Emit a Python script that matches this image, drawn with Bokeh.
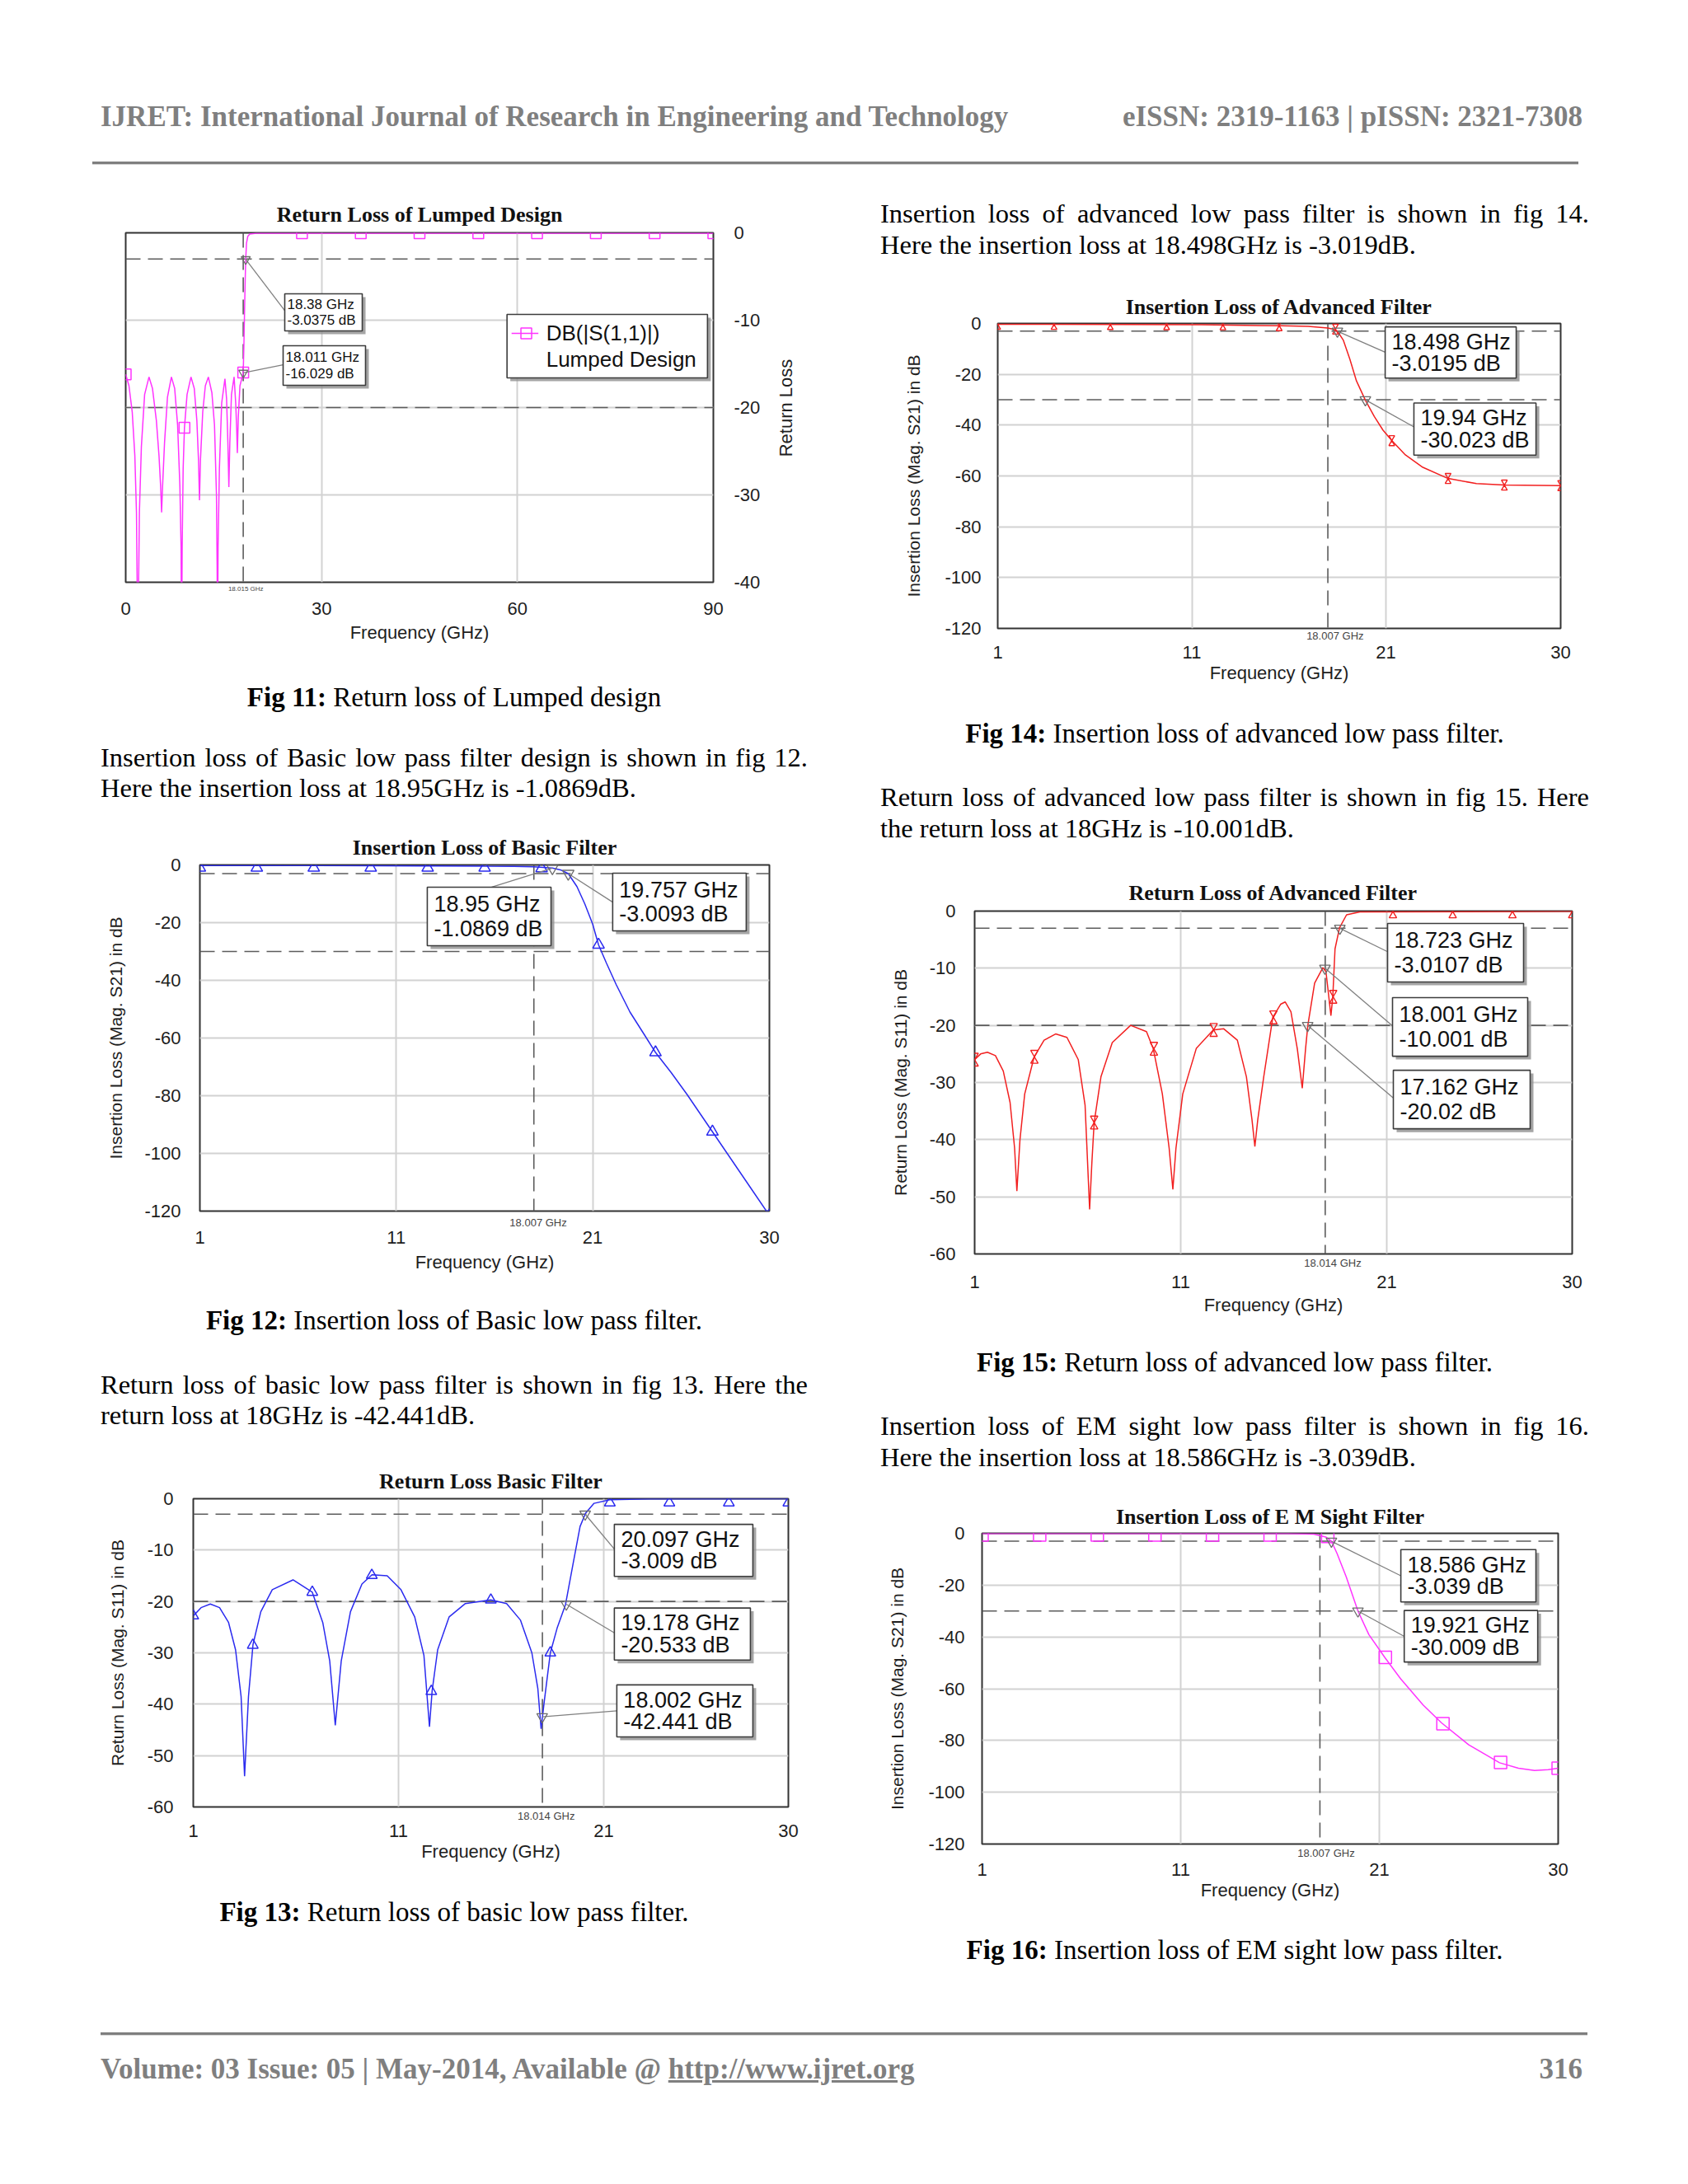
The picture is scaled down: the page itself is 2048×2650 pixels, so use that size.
import math
from bokeh.plotting import figure
from bokeh.models import Range1d, FixedTicker, Span, Div, Spacer, ColumnDataSource, LinearAxis
from bokeh.layouts import column, row
from bokeh.core.properties import value
from bokeh.transform import dodge
from bokeh.embed import file_html
from bokeh.resources import INLINE

# ======================= DATA =======================
# Fig 11 : Return loss of lumped design (0-90 GHz)
lumped_f = [0.0, 0.5, 1.0, 1.4, 1.65, 1.86, 2.1, 2.4, 2.9, 3.57,
            4.1, 4.7, 5.1, 5.35, 5.5, 5.65, 5.95, 6.4, 7.0,
            7.5, 7.95, 8.3, 8.48, 8.56, 8.65, 8.8, 9.0, 9.4, 10.0,
            10.5, 10.9, 11.15, 11.3, 11.45, 11.8, 12.2, 12.66,
            13.2, 13.6, 13.9, 14.0, 14.07, 14.15, 14.35, 14.7, 15.2,
            15.45, 15.65, 15.8, 15.95, 16.2, 16.6,
            16.85, 17.0, 17.1, 17.25, 17.5, 17.8, 18.0,
            18.1, 18.2, 18.3, 18.38, 18.5, 18.7, 19.0, 20.0, 90.0]
lumped_db = [-16.2, -17.5, -20.5, -25.5, -32.0, -48.0, -32.0, -24.5, -18.5, -16.5,
             -17.8, -21.5, -25.5, -29.0, -32.0, -29.0, -24.0, -18.8, -16.5,
             -17.8, -22.0, -29.0, -36.0, -48.0, -36.0, -27.0, -22.3, -18.5, -16.5,
             -17.8, -21.5, -26.0, -30.6, -26.0, -20.5, -17.5, -16.5,
             -18.3, -22.0, -30.0, -38.0, -48.0, -36.0, -27.0, -19.5, -16.7,
             -19.0, -24.0, -29.1, -24.0, -18.5, -16.5,
             -19.5, -22.5, -25.2, -21.0, -17.5, -16.6, -16.0,
             -13.0, -9.0, -5.5, -3.04, -1.2, -0.4, -0.15, -0.05, -0.05]
lumped_mk_f = [0, 9, 18, 27, 36, 45, 54, 63, 72, 81, 90]
lumped_mk_db = [-16.2, -22.3, -16.0, -0.05, -0.05, -0.05, -0.05, -0.05, -0.05, -0.05, -0.05]
lumped_mark_f = [18.38, 18.011]
lumped_mark_db = [-3.0375, -16.029]
lumped_mark_txt = [["18.38 GHz", "-3.0375 dB"], ["18.011 GHz", "-16.029 dB"]]
lumped_legend = ["DB(|S(1,1)|)", "Lumped Design"]
lumped_xticks = [0, 30, 60, 90]
lumped_xlabels = ["0", "30", "60", "90"]
lumped_yticks = [0, -10, -20, -30, -40]
lumped_ylabels = ["0", "-10", "-20", "-30", "-40"]
lumped_hlines = [-3, -20]
lumped_vline = 18.0
lumped_vtext = "18.015 GHz"

# common axes of figs 12-16
freq_ticks = [1, 11, 21, 30]
freq_labels = ["1", "11", "21", "30"]
il_ticks = [0, -20, -40, -60, -80, -100, -120]
il_labels = ["0", "-20", "-40", "-60", "-80", "-100", "-120"]
rl_ticks = [0, -10, -20, -30, -40, -50, -60]
rl_labels = ["0", "-10", "-20", "-30", "-40", "-50", "-60"]
mk_f = [1, 3.9, 6.8, 9.7, 12.6, 15.5, 18.4, 21.3, 24.2, 27.1, 30]

# Fig 12 : insertion loss of basic filter
basic_il_f = [1, 4, 7, 10, 13, 15.5, 17, 18, 18.95, 19.4, 19.757, 20.2, 20.6, 21.0,
              21.3, 21.7, 22.2, 22.9, 23.6, 24.2, 25.0, 25.8, 26.5, 27.1, 27.8, 28.5, 29.2, 30]
basic_il_db = [-0.2, -0.2, -0.25, -0.3, -0.35, -0.45, -0.5, -0.65, -1.09, -1.8, -3.01, -7.5, -13.5, -20.5,
               -27.7, -34.0, -41.5, -51.0, -58.5, -65.0, -72.0, -79.5, -86.5, -92.5, -99.5, -106.5, -113.5, -121.5]
basic_il_mk_db = [-1.0, -1.0, -1.0, -1.0, -1.0, -1.0, -1.2, -27.7, -65.0, -92.5, -121.5]
basic_il_mark_f = [18.95, 19.757]
basic_il_mark_db = [-1.0869, -3.0093]
basic_il_mark_txt = [["18.95 GHz", "-1.0869 dB"], ["19.757 GHz", "-3.0093 dB"]]
basic_il_hlines = [-3, -30]
basic_il_vline = 18.007

# Fig 13 : return loss of basic filter
basic_rl_f = [1.0, 1.38, 1.83, 2.28, 2.72, 3.06, 3.33, 3.5, 3.69, 3.91,
              4.29, 4.85, 5.86, 6.8, 7.31, 7.65, 7.92, 8.21, 8.66, 9.22,
              9.71, 10.45, 11.12, 11.79, 12.24, 12.51, 12.64, 12.91, 13.47, 14.26,
              15.49, 16.27, 16.94, 17.5, 17.79, 17.95, 18.1, 18.4, 18.73, 19.14,
              19.52, 19.85, 20.12, 20.53, 21.3, 23.2, 30.0]
basic_rl_db = [-22.8, -21.2, -20.5, -21.2, -24.1, -29.4, -38.5, -54.0, -38.5, -28.4,
               -22.0, -17.7, -15.8, -18.2, -24.1, -31.6, -44.1, -31.6, -22.0, -16.6,
               -14.8, -15.0, -17.7, -23.0, -30.5, -44.4, -37.4, -29.4, -23.0, -20.4,
               -19.7, -20.4, -23.6, -30.0, -36.9, -44.8, -39.6, -30.0, -25.2, -20.6,
               -12.4, -5.4, -2.8, -0.9, -0.2, -0.05, 0.0]
basic_rl_mk_db = [-22.8, -28.5, -18.2, -14.9, -37.5, -19.7, -30.0, -0.8, -0.8, -0.8, -0.8]
basic_rl_mark_f = [20.097, 19.178, 18.002]
basic_rl_mark_db = [-3.009, -20.533, -42.441]
basic_rl_mark_txt = [["20.097 GHz", "-3.009 dB"], ["19.178 GHz", "-20.533 dB"], ["18.002 GHz", "-42.441 dB"]]
basic_rl_hlines = [-3, -20]
basic_rl_vline = 18.014

# Fig 14 : insertion loss of advanced filter
adv_il_f = [1, 11.5, 15.6, 17.0, 18.0, 18.3, 18.5, 18.8, 19.14, 19.48,
            19.94, 20.4, 20.85, 21.31, 22.0, 22.9, 24.2, 25.66, 27.1, 30]
adv_il_db = [-0.3, -0.5, -0.9, -1.1, -1.8, -2.3, -3.0, -6.5, -14.0, -22.6,
             -30.2, -36.6, -42.0, -46.1, -51.7, -56.6, -61.0, -63.0, -63.6, -63.8]
adv_il_mk_db = [-0.3, -0.35, -0.4, -0.45, -0.5, -0.85, -2.2, -46.1, -61.0, -63.6, -63.8]
adv_il_mark_f = [18.498, 19.94]
adv_il_mark_db = [-3.0195, -30.023]
adv_il_mark_txt = [["18.498 GHz", "-3.0195 dB"], ["19.94 GHz", "-30.023 dB"]]
adv_il_hlines = [-3, -30]
adv_il_vline = 18.007

# Fig 15 : return loss of advanced filter
adv_rl_f = [1.0, 1.29, 1.62, 2.01, 2.39, 2.72, 2.94, 3.05, 3.2, 3.43,
            3.89, 4.37, 4.93, 5.48, 6.03, 6.36, 6.58, 6.69, 6.8, 7.13,
            7.68, 8.57, 9.34, 9.67, 10.11, 10.44, 10.62, 10.77, 11.1, 11.76,
            12.58, 13.09, 13.75, 14.19, 14.46, 14.6, 14.74, 15.03, 15.47, 15.85,
            16.07, 16.35, 16.66, 16.9, 17.06, 17.17, 17.5, 17.9, 18.05, 18.16,
            18.29, 18.38, 18.49, 18.71, 19.05, 19.7, 30.0]
adv_rl_db = [-26.0, -25.0, -24.7, -25.3, -28.0, -33.5, -41.5, -49.0, -40.0, -32.0,
             -25.5, -22.6, -21.5, -22.1, -26.0, -34.0, -52.2, -44.0, -37.0, -29.0,
             -23.0, -20.0, -21.1, -24.1, -32.0, -41.5, -48.7, -41.5, -32.0, -24.0,
             -20.8, -20.6, -22.6, -29.0, -36.5, -41.2, -36.5, -29.0, -18.6, -16.3,
             -15.9, -17.6, -24.1, -31.0, -24.1, -20.0, -12.6, -9.9, -10.6, -14.1,
             -18.3, -15.1, -6.6, -2.9, -0.65, -0.15, -0.05]
adv_rl_mk_db = [-26.0, -25.5, -37.0, -24.1, -20.8, -18.6, -15.0, -0.05, -0.05, -0.05, -0.05]
adv_rl_mark_f = [18.723, 18.001, 17.162]
adv_rl_mark_db = [-3.0107, -10.001, -20.02]
adv_rl_mark_txt = [["18.723 GHz", "-3.0107 dB"], ["18.001 GHz", "-10.001 dB"], ["17.162 GHz", "-20.02 dB"]]
adv_rl_hlines = [-3, -20]
adv_rl_vline = 18.014

# Fig 16 : insertion loss of EM sight filter
em_il_f = [1, 16.4, 17.7, 18.3, 18.586, 18.87, 19.33, 19.921, 20.47, 21.27,
           22.07, 23.2, 24.13, 25.5, 27.05, 28.0, 28.81, 29.5, 30]
em_il_db = [-0.1, -0.1, -0.3, -1.4, -3.04, -7.8, -16.8, -30.0, -39.1, -47.9,
            -56.2, -66.3, -73.2, -81.7, -88.6, -90.7, -91.6, -91.3, -90.7]
em_il_mk_db = [-0.6, -0.6, -0.6, -0.6, -0.6, -0.6, -1.2, -47.9, -73.5, -88.5, -90.7]
em_il_mark_f = [18.586, 19.921]
em_il_mark_db = [-3.039, -30.009]
em_il_mark_txt = [["18.586 GHz", "-3.039 dB"], ["19.921 GHz", "-30.009 dB"]]
em_il_hlines = [-3, -30]
em_il_vline = 18.007

# ======================= LAYOUT / STYLE =======================
SANS = "Liberation Sans"
SERIF = "Liberation Serif"
MAGENTA = "#ff33ff"
BLUE = "#2b2bef"
RED = "#f22020"

def geom(w, h, l, r, t, b, x0, x1, y0, y1):
    return dict(w=w, h=h, l=l, r=r, t=t, b=b, x0=x0, x1=x1, y0=y0, y1=y1,
                fw=w - l - r, fh=h - t - b)

G11 = geom(840, 585, 52, 75, 67, 94, 0, 90, -40, 0)
G12 = geom(900, 555, 142, 67, 49, 86, 1, 30, -120, 0)
G13 = geom(900, 505, 134, 44, 58, 73, 1, 30, -60, 0)
G14 = geom(908, 495, 170, 55, 47, 78, 1, 30, -120, 0)
G15 = geom(908, 565, 142, 41, 55, 94, 1, 30, -60, 0)
G16 = geom(908, 500, 151, 58, 45, 78, 1, 30, -120, 0)

# annotation boxes (left, right, top, bottom, leader_x, leader_y) in data units
BOX11 = [(24.36, 36.23, -6.98, -11.23, 24.36, -8.9), (24.11, 36.73, -12.92, -17.45, 24.11, -15.1)]
BOX12 = [(12.58, 18.88, -7.7, -28.0, 15.86, -7.7), (22.02, 28.82, -2.86, -22.86, 22.02, -12.9)]
BOX13 = [(21.52, 28.27, -4.99, -15.12, 21.52, -9.8), (21.52, 28.15, -21.27, -31.41, 21.52, -26.1),
         (21.64, 28.27, -36.23, -46.37, 21.64, -41.3)]
BOX14 = [(20.96, 27.71, -1.34, -21.5, 20.96, -11.3), (22.44, 28.73, -31.3, -51.8, 22.44, -40.7)]
BOX15 = [(21.04, 27.64, -2.16, -12.41, 21.04, -7.1), (21.28, 27.84, -15.15, -25.4, 21.28, -20.1),
         (21.32, 27.96, -27.85, -38.1, 21.32, -32.7)]
BOX16 = [(22.08, 28.88, -6.3, -26.5, 22.08, -16.4), (22.25, 28.97, -29.8, -49.7, 22.25, -39.8)]


def scale(g):
    return (g["x1"] - g["x0"]) / g["fw"], (g["y1"] - g["y0"]) / g["fh"]


def make_fig(g, title, tstand, xt, xl, yt, yl, ylabel, yloc, xstand, xlabstand, ystand, ylabstand):
    p = figure(width=g["w"], height=g["h"],
               x_range=Range1d(g["x0"], g["x1"]), y_range=Range1d(g["y0"], g["y1"]),
               output_backend="svg", toolbar_location=None, y_axis_location=yloc,
               min_border_left=g["l"], min_border_right=g["r"],
               min_border_top=g["t"], min_border_bottom=g["b"],
               background_fill_color="white", border_fill_color="white")
    p.margin = 0
    if "frame_align" in p.properties():
        p.frame_align = False
    p.title.text = title
    p.title.text_font = SERIF
    p.title.text_font_style = "bold"
    p.title.text_font_size = "26px"
    p.title.text_color = "#111111"
    p.title.align = "center"
    p.title.standoff = tstand
    p.outline_line_color = "#333333"
    p.outline_line_width = 2
    for ax in p.axis:
        ax.axis_line_color = None
        ax.major_tick_in = 0
        ax.major_tick_out = 0
        ax.minor_tick_in = 0
        ax.minor_tick_out = 0
        ax.major_tick_line_color = None
        ax.minor_tick_line_color = None
        ax.major_label_text_font = SANS
        ax.major_label_text_font_size = "22px"
        ax.major_label_text_color = "#1e1e1e"
        ax.axis_label_text_font = SANS
        ax.axis_label_text_font_style = "normal"
        ax.axis_label_text_color = "#1e1e1e"
    xa = p.xaxis[0]
    ya = p.yaxis[0]
    xa.ticker = FixedTicker(ticks=xt)
    xa.major_label_overrides = {t: s for t, s in zip(xt, xl)}
    xa.axis_label = "Frequency (GHz)"
    xa.axis_label_text_font_size = "22px"
    xa.major_label_standoff = xstand
    xa.axis_label_standoff = xlabstand
    ya.ticker = FixedTicker(ticks=yt)
    ya.major_label_overrides = {t: s for t, s in zip(yt, yl)}
    ya.major_label_standoff = ystand
    if ylabel:
        ya.axis_label = ylabel
        ya.axis_label_text_font_size = "21px"
        ya.axis_label_standoff = ylabstand
    p.xgrid.grid_line_color = "#d2d2d2"
    p.ygrid.grid_line_color = "#d2d2d2"
    p.xgrid.grid_line_width = 2
    p.ygrid.grid_line_width = 2
    return p


def guides(p, hlines, vline, vtext, vtext_x, vtext_stand, vtext_size):
    for y in hlines:
        p.add_layout(Span(location=y, dimension="width", line_color="#5c5c5c",
                          line_dash="18 9", line_width=1.6, level="underlay"))
    p.add_layout(Span(location=vline, dimension="height", line_color="#5c5c5c",
                      line_dash="18 9", line_width=1.6, level="underlay"))
    # small frequency readout just under the frame: an extra axis closest to the frame
    ax = LinearAxis(ticker=FixedTicker(ticks=[vtext_x]), major_label_overrides={vtext_x: vtext},
                    axis_line_color=None, major_tick_line_color=None, minor_tick_line_color=None,
                    major_tick_in=0, major_tick_out=0, minor_tick_in=0, minor_tick_out=0,
                    major_label_standoff=vtext_stand, major_label_text_font=SANS,
                    major_label_text_font_size=f"{vtext_size}px", major_label_text_color="#444444")
    p.below = [ax] + list(p.below)


def markers(p, g, xs, ys, kind, size, color):
    if kind == "hourglass":
        dxpp, dypp = scale(g)
        off = (2.0 * 0.866 * size / 3.0) * dypp
        src = ColumnDataSource(dict(x=xs, y=ys))
        p.scatter("x", dodge("y", -off), source=src, marker="triangle", size=size,
                  line_color=color, fill_alpha=0, line_width=1.4)
        p.scatter("x", dodge("y", off), source=src, marker="inverted_triangle", size=size,
                  line_color=color, fill_alpha=0, line_width=1.4)
    else:
        p.scatter(xs, ys, marker=kind, size=size, line_color=color, fill_alpha=0, line_width=1.5)


def notes(p, g, mf, mdb, mtxt, boxes, fsize, pad, tri):
    dxpp, dypp = scale(g)
    p.segment(x0=mf, y0=mdb, x1=[b[4] for b in boxes], y1=[b[5] for b in boxes],
              line_color="#808080", line_width=1.3)
    p.scatter(mf, mdb, marker="inverted_triangle", size=tri, line_color="#6c6c6c",
              fill_alpha=0, line_width=1.3)
    sh = 4
    for b, t in zip(boxes, mtxt):
        left, right, top, bottom = b[:4]
        p.quad(left=[left + sh * dxpp], right=[right + sh * dxpp],
               top=[top - sh * dypp], bottom=[bottom - sh * dypp],
               fill_color="#8e8e8e", fill_alpha=0.8, line_color=None)
        p.quad(left=[left], right=[right], top=[top], bottom=[bottom],
               fill_color="white", line_color="#3c3c3c", line_width=1.6)
        hgt = top - bottom
        p.text(x=[left + pad * dxpp] * 2, y=[top - 0.29 * hgt, top - 0.71 * hgt], text=t,
               text_font=value(SANS), text_font_size=f"{fsize}px", text_baseline="middle",
               text_align="left", text_color="#111111")


# ---------- Fig 11 ----------
f11 = make_fig(G11, "Return Loss of Lumped Design", 16, lumped_xticks, lumped_xlabels,
               lumped_yticks, lumped_ylabels, None, "right", 9, 6, 25, 0)
guides(f11, lumped_hlines, lumped_vline, lumped_vtext, 18.4, 3, 8)
f11.line(lumped_f, lumped_db, line_color=MAGENTA, line_width=1.5)
markers(f11, G11, lumped_mk_f, lumped_mk_db, "square", 13, MAGENTA)
notes(f11, G11, lumped_mark_f, lumped_mark_db, lumped_mark_txt, BOX11, 17, 3, 11)
dx11, dy11 = scale(G11)
f11.quad(left=[58.4 + 4 * dx11], right=[89.1 + 4 * dx11], top=[-9.34 - 4 * dy11], bottom=[-16.6 - 4 * dy11],
         fill_color="#8e8e8e", fill_alpha=0.8, line_color=None)
f11.quad(left=[58.4], right=[89.1], top=[-9.34], bottom=[-16.6], fill_color="white",
         line_color="#3c3c3c", line_width=1.6)
f11.line([59.1, 63.2], [-11.5, -11.5], line_color=MAGENTA, line_width=1.5)
f11.scatter([61.35], [-11.5], marker="square", size=13, line_color=MAGENTA, fill_alpha=0, line_width=1.5)
f11.text(x=[64.4, 64.4], y=[-11.5, -14.5], text=lumped_legend, text_font=value(SANS),
         text_font_size="26px", text_baseline="middle", text_align="left", text_color="#111111")

# ---------- Fig 12 ----------
f12 = make_fig(G12, "Insertion Loss of Basic Filter", 14, freq_ticks, freq_labels, il_ticks, il_labels,
               "Insertion Loss (Mag. S21) in dB", "left", 0, 7, 23, 20)
guides(f12, basic_il_hlines, basic_il_vline, "18.007 GHz", 18.23, 6, 13)
f12.line(basic_il_f, basic_il_db, line_color=BLUE, line_width=1.5)
markers(f12, G12, mk_f, basic_il_mk_db, "triangle", 14, BLUE)
notes(f12, G12, basic_il_mark_f, basic_il_mark_db, basic_il_mark_txt, BOX12, 27, 8, 14)

# ---------- Fig 13 ----------
f13 = make_fig(G13, "Return Loss Basic Filter", 14, freq_ticks, freq_labels, rl_ticks, rl_labels,
               "Return Loss (Mag. S11) in dB", "left", 0, 2, 24, 22)
guides(f13, basic_rl_hlines, basic_rl_vline, "18.014 GHz", 18.2, 3, 13)
f13.line(basic_rl_f, basic_rl_db, line_color=BLUE, line_width=1.5)
markers(f13, G13, mk_f, basic_rl_mk_db, "triangle", 13, BLUE)
notes(f13, G13, basic_rl_mark_f, basic_rl_mark_db, basic_rl_mark_txt, BOX13, 27, 8, 13)

# ---------- Fig 14 ----------
f14 = make_fig(G14, "Insertion Loss of Advanced Filter", 12, freq_ticks, freq_labels, il_ticks, il_labels,
               "Insertion Loss (Mag. S21) in dB", "left", 2, 2, 20, 23)
guides(f14, adv_il_hlines, adv_il_vline, "18.007 GHz", 18.38, 1, 13)
f14.line(adv_il_f, adv_il_db, line_color=RED, line_width=1.5)
markers(f14, G14, mk_f, adv_il_mk_db, "hourglass", 7, RED)
notes(f14, G14, adv_il_mark_f, adv_il_mark_db, adv_il_mark_txt, BOX14, 27, 8, 13)

# ---------- Fig 15 ----------
f15 = make_fig(G15, "Return Loss of Advanced Filter", 16, freq_ticks, freq_labels, rl_ticks, rl_labels,
               "Return Loss (Mag. S11) in dB", "left", 5, 5, 23, 21)
guides(f15, adv_rl_hlines, adv_rl_vline, "18.014 GHz", 18.38, 3, 13)
f15.line(adv_rl_f, adv_rl_db, line_color=RED, line_width=1.5)
markers(f15, G15, mk_f, adv_rl_mk_db, "hourglass", 9, RED)
notes(f15, G15, adv_rl_mark_f, adv_rl_mark_db, adv_rl_mark_txt, BOX15, 27, 8, 13)

# ---------- Fig 16 ----------
f16 = make_fig(G16, "Insertion Loss of E M Sight Filter", 12, freq_ticks, freq_labels, il_ticks, il_labels,
               "Insertion Loss (Mag. S21) in dB", "left", 2, 2, 21, 23)
guides(f16, em_il_hlines, em_il_vline, "18.007 GHz", 18.32, 3, 13)
f16.line(em_il_f, em_il_db, line_color=MAGENTA, line_width=1.5)
markers(f16, G16, mk_f, em_il_mk_db, "square", 15, MAGENTA)
notes(f16, G16, em_il_mark_f, em_il_mark_db, em_il_mark_txt, BOX16, 27, 8, 13)

# ======================= PAGE TEXT =======================
FF = "'Liberation Serif','Times New Roman',serif"
FS = "'Liberation Sans',Arial,sans-serif"


def txt(top, left, width, html, size=32.5, align="left", justify=False, bold=False,
        color="#000000", lh=38):
    st = (f"position:absolute;top:{top}px;left:{left}px;width:{width}px;height:{lh}px;"
          f"line-height:{lh}px;font-family:{FF};font-size:{size}px;color:{color};"
          f"text-align:{align};margin:0;padding:0;")
    if justify:
        st += "text-align:justify;text-align-last:justify;"
    else:
        st += "white-space:nowrap;"
    if bold:
        st += "font-weight:bold;"
    return f'<div style="{st}">{html}</div>'


def rule(top, left, width):
    return (f'<div style="position:absolute;top:{top}px;left:{left}px;width:{width}px;height:3px;'
            f'background:#7f7f7f;"></div>'
            f'<div style="position:absolute;top:{top + 3}px;left:{left}px;width:{width}px;height:1px;'
            f'background:#d4d4d4;"></div>')


def block(w, h, parts):
    html = (f'<div style="position:relative;width:{w}px;height:{h}px;margin:0;padding:0;">'
            + "".join(parts) + "</div>")
    return Div(text=html, width=w, height=h, margin=0)


def caption(top, left, width, num, rest):
    return txt(top, left, width, f"<b>Fig {num}:</b> {rest}", size=33, align="center")


GREY = "#7f7f7f"
header = block(2032, 207, [
    txt(114, 114, 1300, "IJRET: International Journal of Research in Engineering and Technology",
        size=35, bold=True, color=GREY, lh=40),
    txt(114, 1112, 800, "eISSN: 2319-1163 | pISSN: 2321-7308", size=35, bold=True, color=GREY,
        align="right", lh=40),
    rule(188, 104, 1803),
])
footer = block(2032, 202, [
    rule(26, 114, 1804),
    txt(51, 114, 1300, 'Volume: 03 Issue: 05 | May-2014, Available @ <u>http://www.ijret.org</u>',
        size=35, bold=True, color=GREY, lh=40),
    txt(51, 1512, 400, "316", size=35, bold=True, color=GREY, align="right", lh=40),
])

# right-hand axis title of Fig 11 (reads bottom-to-top)
rl_side = block(60, 585, [
    f'<div style="position:absolute;left:-86px;top:267px;width:200px;height:26px;line-height:26px;'
    f'text-align:center;font-family:{FS};font-size:22px;color:#1e1e1e;white-space:nowrap;'
    f'transform:rotate(-90deg);transform-origin:50% 50%;">Return Loss</div>'
])

L1 = block(900, 200, [
    caption(27, 22, 858, "11", "Return loss of Lumped design"),
    txt(100, 22, 858, "Insertion loss of Basic low pass filter design is shown in fig 12.", justify=True),
    txt(137, 22, 858, "Here the insertion loss at 18.95GHz is -1.0869dB."),
])
L2 = block(900, 205, [
    caption(28, 22, 858, "12", "Insertion loss of Basic low pass filter."),
    txt(106, 22, 858, "Return loss of basic low pass filter is shown in fig 13. Here the", justify=True),
    txt(143, 22, 858, "return loss at 18GHz is -42.441dB."),
])
L3 = block(900, 175, [
    caption(36, 22, 858, "13", "Return loss of basic low pass filter."),
])
R1 = block(908, 130, [
    txt(25, 28, 860, "Insertion loss of advanced low pass filter is shown in fig 14.", justify=True),
    txt(63, 28, 860, "Here the insertion loss at 18.498GHz is -3.019dB."),
])
R2 = block(908, 210, [
    caption(31, 28, 860, "14", "Insertion loss of advanced low pass filter."),
    txt(108, 28, 860, "Return loss of advanced low pass filter is shown in fig 15. Here", justify=True),
    txt(146, 28, 860, "the return loss at 18GHz is -10.001dB."),
])
R3 = block(908, 200, [
    caption(19, 28, 860, "15", "Return loss of advanced low pass filter."),
    txt(96, 28, 860, "Insertion loss of EM sight low pass filter is shown in fig 16.", justify=True),
    txt(134, 28, 860, "Here the insertion loss at 18.586GHz is -3.039dB."),
])
R4 = block(908, 125, [
    caption(32, 28, 860, "16", "Insertion loss of EM sight low pass filter."),
])

top_left = row(f11, rl_side, spacing=0)
left_col = column(top_left, L1, f12, L2, f13, L3, spacing=0)
right_col = column(R1, f14, R2, f15, R3, f16, R4, spacing=0)
body = row(Spacer(width=92, height=2225), left_col, Spacer(width=40, height=2225), right_col,
           Spacer(width=92, height=2225), spacing=0)
inner = column(header, body, footer, spacing=0)
page = column(Spacer(width=2040, height=8), row(Spacer(width=8, height=2634), inner, spacing=0), spacing=0)

open("out.html", "w").write(file_html(page, INLINE, "IJRET page 316"))
